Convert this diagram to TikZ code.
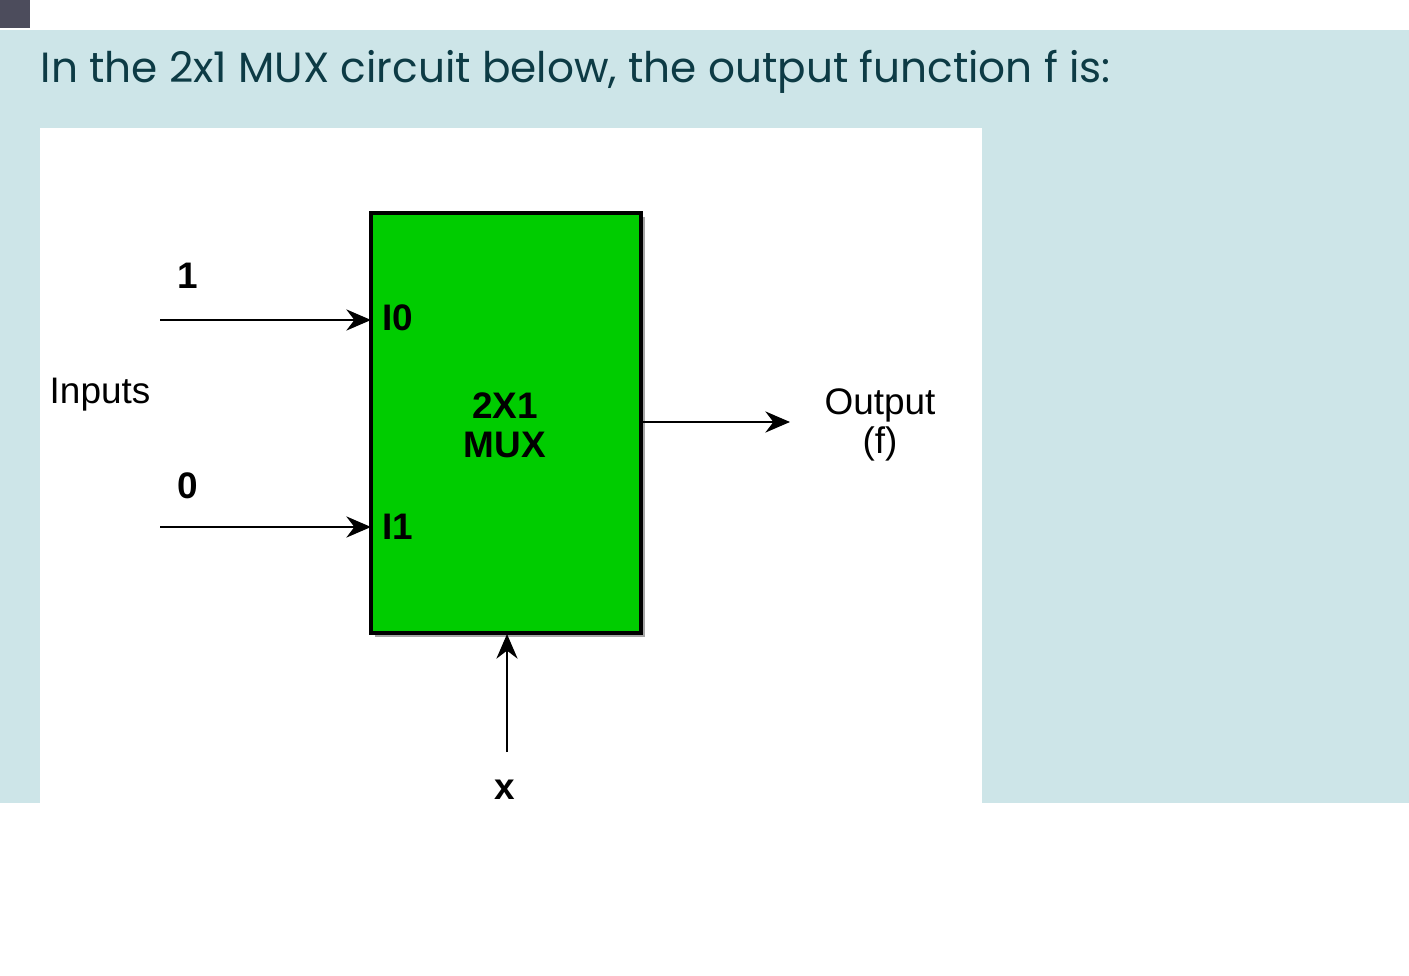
\documentclass[tikz,border=0pt]{standalone}
\usepackage{fontspec}
\setmainfont{Liberation Sans}
\newfontfamily\titlefont{Poppins}
\usetikzlibrary{arrows.meta}
\definecolor{band}{HTML}{CDE5E8}
\definecolor{ttl}{HTML}{0D3B45}
\definecolor{mux}{HTML}{00CC00}
\begin{document}
\begin{tikzpicture}[x=0.01cm,y=-0.01cm,
  lbl/.style={inner sep=0pt,font=\fontsize{10.5}{12}\selectfont},
  blbl/.style={inner sep=0pt,font=\fontsize{10.5}{12}\selectfont\bfseries},
  wire/.style={line width=0.7pt,-{Stealth[length=7pt,width=6pt]}}]
\useasboundingbox (0,0) rectangle (1409,976);
\fill[white] (0,0) rectangle (1409,976);
\fill[band] (0,30) rectangle (1409,803);
\fill[black!85!blue!40!gray] (0,0) rectangle (30,28);
\node[anchor=west,inner sep=0pt,text=ttl,font=\titlefont\fontsize{12}{14}\selectfont] (title) at (40,72) {In the 2x1 MUX circuit below, the output function f is:};
\fill[white] (40,128) rectangle (982,803);
\fill[gray!70] (375,217) rectangle (645,637);
\draw[fill=mux,line width=1pt] (371,213) rectangle (641,633);
\node[draw=none,inner sep=0pt,minimum width=270\pgflinewidth] (box) at (506,423) {};
\coordinate (a0) at (160,320); \coordinate (b0) at (371,320);
\coordinate (a1) at (160,527); \coordinate (b1) at (371,527);
\coordinate (o0) at (641,422); \coordinate (o1) at (790,422);
\coordinate (s0) at (507,752); \coordinate (s1) at (507,634);
\draw[wire] (a0) -- (b0);
\draw[wire] (a1) -- (b1);
\draw[wire] (o0) -- (o1);
\draw[wire] (s0) -- (s1);
\node[blbl] (one) at (188,276) {1};
\node[blbl] (zero) at (188,486) {0};
\node[blbl,anchor=west] (i0) at (382,318) {I0};
\node[blbl,anchor=west] (i1) at (382,527) {I1};
\node[lbl] (inputs) at (100,395) {Inputs};
\node[blbl,align=center] (name) at (505,425) {2X1\\[-1pt]MUX};
\node[lbl,align=center] (out) at (880,425) {Output\\[-1pt](f)};
\node[blbl] (x) at (505,790) {x};
\end{tikzpicture}
\end{document}
